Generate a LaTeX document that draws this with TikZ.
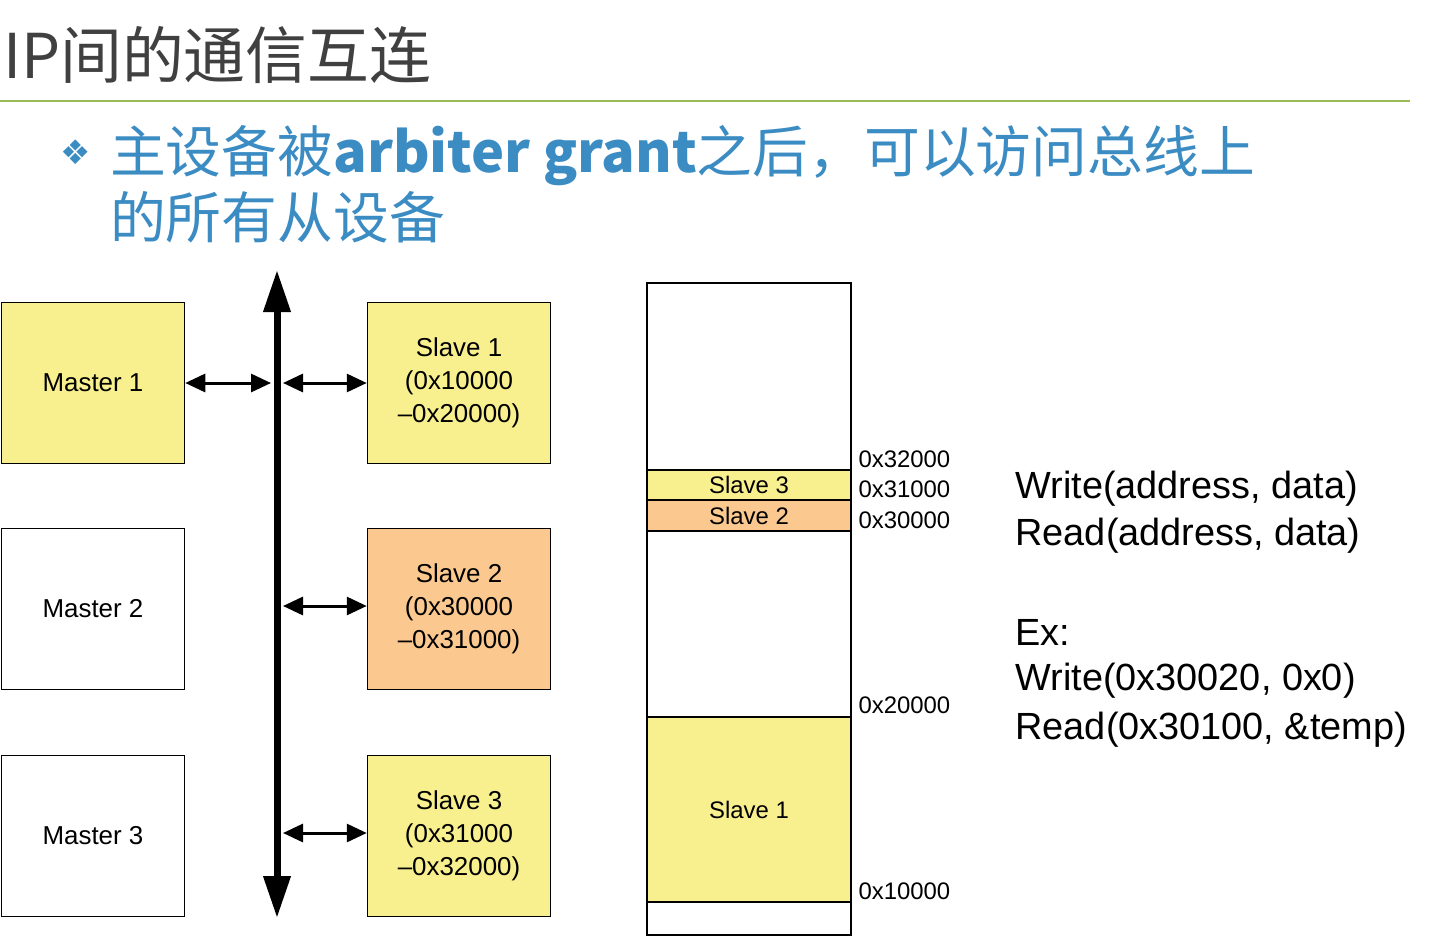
\documentclass[tikz,border=0pt]{standalone}
\usepackage{fontspec}
\setmainfont{Liberation Sans}
\newfontfamily\cjk{Noto Sans CJK SC}
\newfontfamily\djv{DejaVu Sans}
\usetikzlibrary{arrows.meta}
\definecolor{yel}{HTML}{F8F08F}
\definecolor{ora}{HTML}{FBC98F}
\definecolor{blu}{HTML}{3C8CC4}
\definecolor{grn}{HTML}{9BBB59}
\begin{document}
\begin{tikzpicture}[x=1bp,y=-1bp,
  box/.style={draw,line width=1.5bp,minimum width=183bp,minimum height=161bp,align=center,font=\fontsize{26}{33}\selectfont},
  mem/.style={draw,line width=1.5bp,minimum width=204bp,align=center,font=\fontsize{24}{28}\selectfont,inner sep=0pt},
  lab/.style={anchor=west,font=\fontsize{24}{28}\selectfont},
  rt/.style={anchor=west,font=\fontsize{38}{44}\selectfont},
  tip/.tip={Triangle[length=20bp,width=18bp]},
  bigtip/.tip={Triangle[length=42bp,width=26bp]}]
\useasboundingbox (0,0) rectangle (1439,945);
\node[anchor=west,font=\cjk\fontsize{62}{64}\selectfont,text=black!75,inner sep=0pt] (title) at (3,55) {IP间的通信互连};
\draw[grn,line width=2.5bp] (0,101) -- (1410,101);
\node[anchor=west,text=blu,font=\djv\fontsize{34}{40}\selectfont,inner sep=0pt] (bul) at (60,152) {❖};
\node[anchor=west,text=blu,font=\cjk\fontsize{56}{66}\selectfont,align=left,inner sep=0pt] (b1) at (110,184) {主设备被\textbf{arbiter grant}之后，可以访问总线上\\的所有从设备};
\node[box,fill=yel] (m1) at (93,383) {Master 1};
\node[box,fill=white] (m2) at (93,609) {Master 2};
\node[box,fill=white] (m3) at (93,836) {Master 3};
\node[box,fill=yel] (s1) at (459,383) {Slave 1\\(0x10000\\--0x20000)};
\node[box,fill=ora] (s2) at (459,609) {Slave 2\\(0x30000\\--0x31000)};
\node[box,fill=yel] (s3) at (459,836) {Slave 3\\(0x31000\\--0x32000)};
\coordinate (bt) at (277,270);
\coordinate (bb) at (277,918);
\draw[line width=7bp,bigtip-bigtip] (bt) -- (bb);
\coordinate (j1) at (271,383);
\coordinate (j2) at (283,383);
\coordinate (j3) at (283,606);
\coordinate (j4) at (283,833);
\draw[line width=3bp,tip-tip] (m1.east) -- (j1);
\draw[line width=3bp,tip-tip] (j2) -- (s1.west);
\draw[line width=3bp,tip-tip] (j3) -- (j3-|s2.west);
\draw[line width=3bp,tip-tip] (j4) -- (j4-|s3.west);
\node[draw,line width=1.5bp,minimum width=204bp,minimum height=652bp] (mm) at (749,609) {};
\node[mem,fill=yel,minimum height=30bp] (ms3) at (749,485) {Slave 3};
\node[mem,fill=ora,minimum height=31bp] (ms2) at (749,515.5) {Slave 2};
\node[mem,fill=yel,minimum height=185bp] (ms1) at (749,809.5) {Slave 1};
\node[lab] (a1) at (855,459) {0x32000};
\node[lab] (a2) at (855,489) {0x31000};
\node[lab] (a3) at (855,520) {0x30000};
\node[lab] (a4) at (855,705) {0x20000};
\node[lab] (a5) at (855,891) {0x10000};
\node[rt] (t1) at (1012,489) {Write(address, data)};
\node[rt] (t2) at (1012,536) {Read(address, data)};
\node[rt] (t3) at (1012,632) {Ex:};
\node[rt] (t4) at (1012,681) {Write(0x30020, 0x0)};
\node[rt] (t5) at (1012,730) {Read(0x30100, \&temp)};
\end{tikzpicture}
\end{document}
